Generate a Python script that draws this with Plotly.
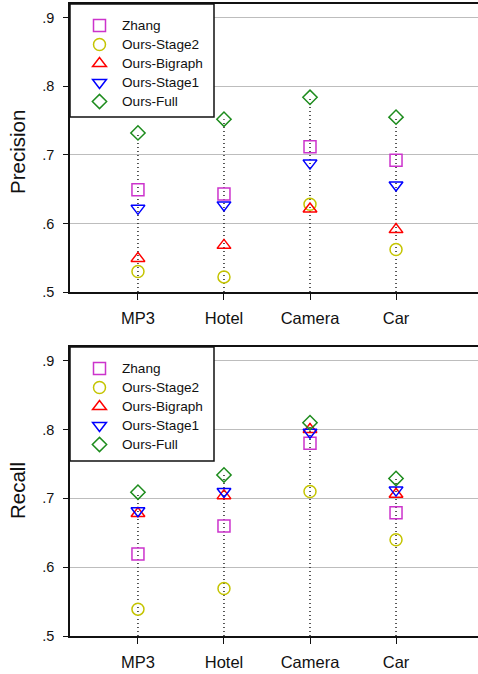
import plotly.graph_objects as go

# ---- data -------------------------------------------------------------
categories = ["MP3", "Hotel", "Camera", "Car"]
series_names = ["Zhang", "Ours-Stage2", "Ours-Bigraph", "Ours-Stage1", "Ours-Full"]

precision_zhang = [0.649, 0.643, 0.712, 0.692]
precision_stage2 = [0.530, 0.522, 0.628, 0.562]
precision_bigraph = [0.549, 0.568, 0.621, 0.591]
precision_stage1 = [0.622, 0.627, 0.688, 0.656]
precision_full = [0.732, 0.752, 0.784, 0.755]

recall_zhang = [0.619, 0.660, 0.780, 0.679]
recall_stage2 = [0.539, 0.569, 0.710, 0.640]
recall_bigraph = [0.678, 0.704, 0.800, 0.706]
recall_stage1 = [0.682, 0.710, 0.796, 0.712]
recall_full = [0.709, 0.734, 0.810, 0.729]

y_tickvals = [0.5, 0.6, 0.7, 0.8, 0.9]
y_ticktext = [".5", ".6", ".7", ".8", ".9"]

# ---- styling ----------------------------------------------------------
FONT = "Arial, 'Liberation Sans', sans-serif"
symbols = ["square-open", "circle-open", "triangle-up-open", "triangle-down-open", "diamond-open"]
colors = ["#CC33CC", "#C4C400", "#FF0000", "#0000FF", "#1E8C1E"]
sizes = [12, 12, 12, 12, 11]

W, H = 478, 674
M_L, M_R, M_T, M_B = 70, 0, 4, 38
plot_h = H - M_T - M_B
plot_w = W - M_L - M_R


def py(px):
    """pixel row -> paper y fraction"""
    return (H - M_B - px) / plot_h


def pxx(px):
    """pixel column -> paper x fraction"""
    return (px - M_L) / plot_w


top_domain = [py(292), 1.0]
bot_domain = [0.0, py(347)]

panels = [
    dict(xa="x", ya="y", legend="legend", title="Precision",
         values=[precision_zhang, precision_stage2, precision_bigraph, precision_stage1, precision_full]),
    dict(xa="x2", ya="y2", legend="legend2", title="Recall",
         values=[recall_zhang, recall_stage2, recall_bigraph, recall_stage1, recall_full]),
]

fig = go.Figure()

for p in panels:
    # dotted stems from the baseline up to the highest value of each category
    stem_x, stem_y = [], []
    for i, c in enumerate(categories):
        top = max(v[i] for v in p["values"])
        stem_x += [c, c, None]
        stem_y += [y_tickvals[0], top, None]
    fig.add_trace(go.Scatter(
        x=stem_x, y=stem_y, mode="lines", xaxis=p["xa"], yaxis=p["ya"],
        line=dict(color="#222222", width=1.5, dash="1px,3px"),
        showlegend=False, hoverinfo="skip", legend=p["legend"],
    ))
    for name, vals, sym, col, sz in zip(series_names, p["values"], symbols, colors, sizes):
        fig.add_trace(go.Scatter(
            x=categories, y=vals, mode="markers",
            name=f'<span style="font-size:13.6px">{name}</span>',
            xaxis=p["xa"], yaxis=p["ya"], legend=p["legend"],
            marker=dict(symbol=sym, size=sz, color=col, line=dict(color=col, width=1.5)),
        ))

x_range = [-0.79, 3.953]
xaxis_common = dict(
    type="category", categoryorder="array", categoryarray=categories,
    range=x_range, showline=True, linecolor="#111111", linewidth=1.5, mirror=True,
    ticks="outside", ticklen=6, tickwidth=1.2, tickcolor="#111111",
    showgrid=False, zeroline=False, ticklabelstandoff=4,
    tickfont=dict(family=FONT, size=16.5, color="#111111"),
)
yaxis_common = dict(
    range=[0.5, 0.92], tickvals=y_tickvals, ticktext=y_ticktext,
    showline=True, linecolor="#111111", linewidth=1.5,
    ticks="outside", ticklen=5, tickwidth=1.2, tickcolor="#111111",
    showgrid=True, gridcolor="#BDBDBD", gridwidth=1.2, zeroline=False,
    ticklabelstandoff=6,
    tickfont=dict(family=FONT, size=14.5, color="#111111"),
)

legend_common = dict(
    x=pxx(77), xanchor="left", yanchor="top",
    bgcolor="rgba(0,0,0,0)", borderwidth=0, itemwidth=35,
    font=dict(family=FONT, size=12, color="#111111"),
    itemclick=False, itemdoubleclick=False,
)

shapes = []
annotations = []
for p, box_top, box_bot, title_y in [
    (panels[0], 4, 117, 152),
    (panels[1], 347, 461, 490),
]:
    shapes.append(dict(
        type="rect", xref="paper", yref="paper", layer="above",
        x0=pxx(70), x1=pxx(214), y0=py(box_bot), y1=py(box_top),
        line=dict(color="#111111", width=1.5), fillcolor="white",
    ))
    annotations.append(dict(
        text=p["title"], textangle=-90, xref="paper", yref="paper",
        x=pxx(17), y=py(title_y), xanchor="center", yanchor="middle",
        showarrow=False, font=dict(family=FONT, size=20.5, color="#111111"),
    ))

fig.update_layout(
    width=W, height=H,
    margin=dict(l=M_L, r=M_R, t=M_T, b=M_B, pad=0),
    paper_bgcolor="white", plot_bgcolor="white",
    xaxis=dict(domain=[0, 1], anchor="y", **xaxis_common),
    yaxis=dict(domain=top_domain, anchor="x", **yaxis_common),
    xaxis2=dict(domain=[0, 1], anchor="y2", **xaxis_common),
    yaxis2=dict(domain=bot_domain, anchor="x2", **yaxis_common),
    legend=dict(y=py(11), **legend_common),
    legend2=dict(y=py(354), **legend_common),
    shapes=shapes,
    annotations=annotations,
    showlegend=True,
)

fig.write_html("out.html")
